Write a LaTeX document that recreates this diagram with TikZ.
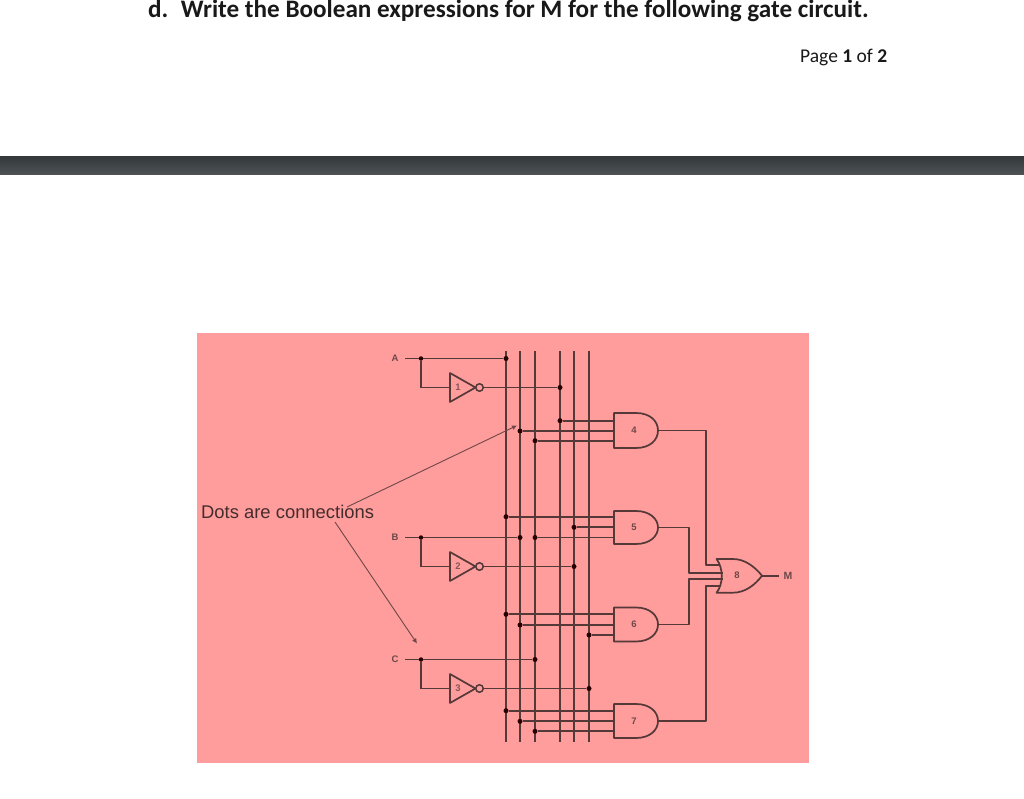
\documentclass[tikz,border=0pt]{standalone}
\usepackage{fontspec}
\usetikzlibrary{arrows.meta}
\setmainfont{Carlito}
\newfontfamily\arialf{Liberation Sans}
\definecolor{wirec}{HTML}{553838}
\definecolor{pinkbg}{HTML}{FF9C9C}
\definecolor{barA}{HTML}{33383B}
\definecolor{barB}{HTML}{4E5356}
\newcommand{\invgate}[3]{% name, cy, label
  \draw[gateline] (450,#2-14.5) -- (475.5,#2) -- (450,#2+14.5) -- cycle;
  \node[lab,text=wirec!70!pinkbg] (#1lab) at (458,#2) {#3};
  \node[circle,draw=wirec,line width=1.5pt,inner sep=0pt,minimum size=7.5pt] (#1) at (479.5,#2) {};
  \coordinate (#1in) at (450,#2);
}
\newcommand{\andgate}[4]{% name, top, bottom, label
  \draw[gateline] (614,#2) -- (636,#2) .. controls (650,#2) and (658,#2+8) .. (658,{(#2+#3)/2})
     .. controls (658,#3-8) and (650,#3) .. (636,#3) -- (614,#3) -- cycle;
  \node[lab] (#1) at (634,{(#2+#3)/2}) {#4};
  \coordinate (#1out) at (658,{(#2+#3)/2});
}
\begin{document}
\begin{tikzpicture}[x=1pt,y=-1pt,
  wire/.style={draw=wirec,line width=1.7pt},
  gateline/.style={draw=wirec,line width=1.7pt,line join=round},
  jdot/.style={circle,fill=black!85!red,inner sep=0pt,minimum size=5pt},
  lab/.style={font=\arialf\fontsize{9.5}{10}\selectfont\bfseries,text=wirec!85!pinkbg,inner sep=0pt},
  pointer/.style={draw=wirec!85!pinkbg,line width=0.9pt,-{Latex[length=5pt,width=5pt]}},
]
\useasboundingbox (0,0) rectangle (1024,799);
\fill[white] (0,0) rectangle (1024,799);
\fill[pinkbg] (197,333) rectangle (809,763);
\shade[top color=barA,bottom color=barB] (0,156.3) rectangle (1024,175);

\node[anchor=base west,inner sep=0pt,font=\fontsize{25.15}{28}\selectfont\bfseries,text=black!90] (title) at (148,17.5)
  {d.\hspace{0.5em}Write the Boolean expressions for M for the following gate circuit.};
\node[anchor=west,inner sep=0pt,font=\fontsize{19.5}{22}\selectfont,text=black!90] (page) at (800,57.5)
  {Page \textbf{1} of \textbf{2}};

% bus lines
\foreach \n/\x in {a/506,b/520,c/535,d/560,e/574,f/589}{
  \coordinate (\n top) at (\x,351);
  \coordinate (\n bot) at (\x,742);
  \draw[wire] (\n top) -- (\n bot);
}

% note and pointers
\node[anchor=west,inner sep=0pt,font=\arialf\fontsize{18.4}{20}\selectfont,text=wirec!80!black] (note) at (201,511.5) {Dots are connections};
\coordinate (n1) at (347,507);
\coordinate (n2) at (335,522);
\coordinate (n1end) at (517,425.5);
\coordinate (n2end) at (417,643.5);
\draw[pointer] (n1) -- (n1end);
\draw[pointer] (n2) -- (n2end);

% inputs A, B, C and inverters
\node[lab] (A) at (395,358.5) {A};
\node[lab] (B) at (395,537.5) {B};
\node[lab] (C) at (395,659.5) {C};
\invgate{inv1}{387.5}{1}
\invgate{inv2}{566.5}{2}
\invgate{inv3}{688.5}{3}

\node[jdot,minimum size=4.5pt] (jA) at (421,358.5) {};
\node[jdot,minimum size=4.5pt] (jB) at (421,537.5) {};
\node[jdot,minimum size=4.5pt] (jC) at (421,659.5) {};

\node[jdot] (Aa) at (506,358.5) {};
\node[jdot] (Id) at (560,387.5) {};
\node[jdot] (Bb) at (520,537.5) {};
\node[jdot] (Bc) at (535,537.5) {};
\node[jdot] (Ie) at (574,566.5) {};
\node[jdot] (Cc) at (535,659.5) {};
\node[jdot] (If) at (589,688.5) {};

\coordinate (As) at (405,358.5);
\coordinate (Bs) at (405,537.5);
\coordinate (Cs) at (405,659.5);
\draw[wire] (As) -- (jA); \draw[wire] (jA) -- (Aa);
\draw[wire] (jA) |- (inv1in);
\draw[wire] (inv1) -- (Id);
\draw[wire] (Bs) -- (jB); \draw[wire] (jB) -- (Bb);
\draw[wire] (jB) |- (inv2in);
\draw[wire] (inv2) -- (Ie);
\draw[wire] (Cs) -- (jC); \draw[wire] (jC) -- (Cc);
\draw[wire] (jC) |- (inv3in);
\draw[wire] (inv3) -- (If);

% AND gates
\andgate{g4}{413}{448}{4}
\andgate{g5}{511}{544}{5}
\andgate{g6}{607.5}{641.5}{6}
\andgate{g7}{704}{738}{7}

% AND inputs
\foreach \nm/\x/\y in {p1/560/420.7,p2/520/431,p3/535/440.7,
                       q1/506/516.7,q2/574/527.3,
                       r1/506/614.3,r2/520/625,r3/589/635,
                       s1/506/710.7,s2/520/721.3,s3/535/731.3}{
  \node[jdot] (\nm) at (\x,\y) {};
  \coordinate (\nm e) at (614,\y);
  \draw[wire] (\nm) -- (\nm e);
}
\coordinate (q3e) at (614,537.5);
\draw[wire] (Bc) -- (q3e);

% OR gate
\draw[gateline] (716.5,559) -- (733,559) .. controls (745,559) and (755,567) .. (762,575.7)
   .. controls (755,585) and (745,592.7) .. (733,592.7) -- (716.5,592.7)
   .. controls (723.5,584) and (723.5,568) .. (716.5,559) -- cycle;
\node[lab] (g8) at (737,575.7) {8};
\coordinate (orout) at (762,575.7);
\coordinate (or1) at (720,565);
\coordinate (or2) at (722.5,572.7);
\coordinate (or3) at (722.5,579.3);
\coordinate (or4) at (720,586);
\node[lab,font=\arialf\fontsize{10.5}{11}\selectfont\bfseries] (M) at (788,576) {M};
\coordinate (Ms) at (779,575.7);
\draw[wire] (orout) -- (Ms);

% outputs to OR
\coordinate (t1) at (706,430.5);
\coordinate (t1b) at (706,565);
\coordinate (t2) at (689,527.5);
\coordinate (t2b) at (689,572.7);
\coordinate (t3) at (689,624.5);
\coordinate (t3b) at (689,579.3);
\coordinate (t4) at (706,721);
\coordinate (t4b) at (706,586);
\draw[gateline] (g4out) -- (t1) -- (t1b) -- (or1);
\draw[gateline] (g5out) -- (t2) -- (t2b) -- (or2);
\draw[gateline] (g6out) -- (t3) -- (t3b) -- (or3);
\draw[gateline] (g7out) -- (t4) -- (t4b) -- (or4);
\end{tikzpicture}
\end{document}
